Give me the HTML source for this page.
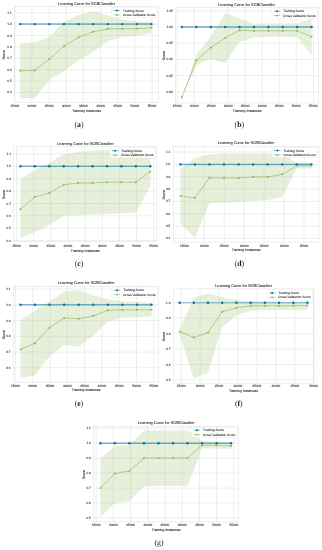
<!DOCTYPE html>
<html lang="en"><head><meta charset="utf-8">
<title>Learning curves for XGBClassifier</title>
<style>
html,body{margin:0;padding:0;background:#fff;}
body{width:322px;height:550px;overflow:hidden;}
svg{display:block;}
text{font-family:"Liberation Sans",sans-serif;fill:#555;text-rendering:geometricPrecision;}
.grid{fill:none;stroke:#d4d4d4;stroke-width:0.4;}
.frame{fill:none;stroke:#d4d4d4;stroke-width:0.4;}
.band{fill:#9fc377;fill-opacity:0.27;stroke:none;}
.thalo{fill:none;stroke:#0272a2;stroke-opacity:0.28;stroke-width:1.5;}
.tline{fill:none;stroke:#2685b1;stroke-width:0.6;}
.cline{fill:none;stroke:#8ebc5f;stroke-width:0.66;stroke-linejoin:round;}
.tm{fill:#0272a2;}
.cm{fill:#86b556;}
.tk{font-size:3.15px;fill:#303030;stroke:#303030;stroke-width:0.09px;}
.ttl{font-size:3.85px;fill:#2c2c2c;stroke:#2c2c2c;stroke-width:0.09px;}
.al{font-size:3.55px;fill:#2c2c2c;stroke:#2c2c2c;stroke-width:0.09px;}
.lt{font-size:3.2px;fill:#2c2c2c;stroke:#2c2c2c;stroke-width:0.08px;}
.lgd{fill:#fff;fill-opacity:0.8;stroke:#e2e2e2;stroke-width:0.35;}
.cap{font-family:"Liberation Serif",serif;font-size:7.8px;fill:#1a1a1a;}

</style></head><body>
<svg width="322" height="550" viewBox="0 0 322 550">
<rect width="322" height="550" fill="#fff"/>
<g class="chart" id="chart-a">
<rect x="14.6" y="6.5" width="144" height="95.8" fill="#fff"/>
<path class="grid" d="M14.6 12.71H158.6M14.6 24.1H158.6M14.6 35.49H158.6M14.6 46.88H158.6M14.6 58.27H158.6M14.6 69.66H158.6M14.6 81.05H158.6M14.6 92.44H158.6M14.8 6.5V102.3M31.95 6.5V102.3M49.1 6.5V102.3M66.25 6.5V102.3M83.4 6.5V102.3M100.55 6.5V102.3M117.7 6.5V102.3M134.85 6.5V102.3M152 6.5V102.3"/>
<polygon class="band" points="20.2,43.5 34.79,42.2 49.38,37 63.97,21.8 78.56,15.1 93.14,11.2 107.73,15.8 122.32,19.5 136.91,21.4 151.5,22.1 151.5,33.3 136.91,35.7 122.32,36.7 107.73,41.3 93.14,52 78.56,60.5 63.97,71.3 49.38,80 34.79,98.3 20.2,98.2"/>
<path class="thalo" d="M20.2 24.1H151.5"/>
<path class="tline" d="M20.2 24.1H151.5"/>
<polyline class="cline" points="20.2,70.7 34.79,70.4 49.38,59 63.97,46.2 78.56,37.3 93.14,31.8 107.73,28.8 122.32,28.8 136.91,28.6 151.5,27.8"/>
<circle class="tm" cx="20.2" cy="24.1" r="1.2"/>
<circle class="tm" cx="34.79" cy="24.1" r="1.2"/>
<circle class="tm" cx="49.38" cy="24.1" r="1.2"/>
<circle class="tm" cx="63.97" cy="24.1" r="1.2"/>
<circle class="tm" cx="78.56" cy="24.1" r="1.2"/>
<circle class="tm" cx="93.14" cy="24.1" r="1.2"/>
<circle class="tm" cx="107.73" cy="24.1" r="1.2"/>
<circle class="tm" cx="122.32" cy="24.1" r="1.2"/>
<circle class="tm" cx="136.91" cy="24.1" r="1.2"/>
<circle class="tm" cx="151.5" cy="24.1" r="1.2"/>
<circle class="cm" cx="20.2" cy="70.7" r="0.95"/>
<circle class="cm" cx="34.79" cy="70.4" r="0.95"/>
<circle class="cm" cx="49.38" cy="59" r="0.95"/>
<circle class="cm" cx="63.97" cy="46.2" r="0.95"/>
<circle class="cm" cx="78.56" cy="37.3" r="0.95"/>
<circle class="cm" cx="93.14" cy="31.8" r="0.95"/>
<circle class="cm" cx="107.73" cy="28.8" r="0.95"/>
<circle class="cm" cx="122.32" cy="28.8" r="0.95"/>
<circle class="cm" cx="136.91" cy="28.6" r="0.95"/>
<circle class="cm" cx="151.5" cy="27.8" r="0.95"/>
<rect class="frame" x="14.6" y="6.5" width="144" height="95.8"/>
<text class="tk" text-anchor="end" x="11.7" y="13.76">1.1</text>
<text class="tk" text-anchor="end" x="11.7" y="25.15">1.0</text>
<text class="tk" text-anchor="end" x="11.7" y="36.54">0.9</text>
<text class="tk" text-anchor="end" x="11.7" y="47.93">0.8</text>
<text class="tk" text-anchor="end" x="11.7" y="59.32">0.7</text>
<text class="tk" text-anchor="end" x="11.7" y="70.71">0.6</text>
<text class="tk" text-anchor="end" x="11.7" y="82.1">0.5</text>
<text class="tk" text-anchor="end" x="11.7" y="93.49">0.4</text>
<text class="tk" text-anchor="middle" x="14.8" y="107.2">15000</text>
<text class="tk" text-anchor="middle" x="31.95" y="107.2">20000</text>
<text class="tk" text-anchor="middle" x="49.1" y="107.2">25000</text>
<text class="tk" text-anchor="middle" x="66.25" y="107.2">30000</text>
<text class="tk" text-anchor="middle" x="83.4" y="107.2">35000</text>
<text class="tk" text-anchor="middle" x="100.55" y="107.2">40000</text>
<text class="tk" text-anchor="middle" x="117.7" y="107.2">45000</text>
<text class="tk" text-anchor="middle" x="134.85" y="107.2">50000</text>
<text class="tk" text-anchor="middle" x="152" y="107.2">55000</text>
<text class="ttl" text-anchor="middle" x="86.6" y="4.6">Learning Curve for XGBClassifier</text>
<text class="al" text-anchor="middle" x="86.6" y="111.75">Training Instances</text>
<text class="al" text-anchor="middle" transform="translate(5 54.9) rotate(-90)">Score</text>
<rect class="lgd" x="111.5" y="7.5" width="45.7" height="10.2" rx="0.6"/>
<path class="tline" d="M113.7 10.5h6.4"/>
<circle class="tm" cx="116.9" cy="10.5" r="1.0"/>
<path class="cline" d="M113.7 14.9h6.4"/>
<circle class="cm" cx="116.9" cy="14.9" r="0.9"/>
<text class="lt" x="123.1" y="11.6">Training Score</text>
<text class="lt" x="123.1" y="16">Cross Validation Score</text>
<text class="cap" text-anchor="middle" x="79" y="127">(<tspan class="capb" font-weight="bold">a</tspan>)</text>
</g>
<g class="chart" id="chart-b">
<rect x="175.6" y="7.2" width="143.2" height="95.8" fill="#fff"/>
<path class="grid" d="M175.6 10.8H318.8M175.6 27H318.8M175.6 43.2H318.8M175.6 59.4H318.8M175.6 75.6H318.8M175.6 91.8H318.8M177.2 7.2V103M194.2 7.2V103M211.2 7.2V103M228.2 7.2V103M245.2 7.2V103M262.2 7.2V103M279.2 7.2V103M296.2 7.2V103M313.2 7.2V103"/>
<polygon class="band" points="181.9,97.2 196.31,54.8 210.72,36.8 225.13,12.9 239.54,18.8 253.96,23.5 268.37,23.5 282.78,23.5 297.19,23.5 311.6,18.5 311.6,55.2 297.19,37 282.78,37 268.37,37 253.96,37.2 239.54,42 225.13,63.6 210.72,58.4 196.31,65.5 181.9,97.2"/>
<path class="thalo" d="M181.9 27H311.6"/>
<path class="tline" d="M181.9 27H311.6"/>
<polyline class="cline" points="181.9,97.2 196.31,60.5 210.72,47.7 225.13,38 239.54,30.3 253.96,30.8 268.37,30.8 282.78,30.8 297.19,30.8 311.6,36.8"/>
<circle class="tm" cx="181.9" cy="27" r="1.2"/>
<circle class="tm" cx="196.31" cy="27" r="1.2"/>
<circle class="tm" cx="210.72" cy="27" r="1.2"/>
<circle class="tm" cx="225.13" cy="27" r="1.2"/>
<circle class="tm" cx="239.54" cy="27" r="1.2"/>
<circle class="tm" cx="253.96" cy="27" r="1.2"/>
<circle class="tm" cx="268.37" cy="27" r="1.2"/>
<circle class="tm" cx="282.78" cy="27" r="1.2"/>
<circle class="tm" cx="297.19" cy="27" r="1.2"/>
<circle class="tm" cx="311.6" cy="27" r="1.2"/>
<circle class="cm" cx="181.9" cy="97.2" r="0.95"/>
<circle class="cm" cx="196.31" cy="60.5" r="0.95"/>
<circle class="cm" cx="210.72" cy="47.7" r="0.95"/>
<circle class="cm" cx="225.13" cy="38" r="0.95"/>
<circle class="cm" cx="239.54" cy="30.3" r="0.95"/>
<circle class="cm" cx="253.96" cy="30.8" r="0.95"/>
<circle class="cm" cx="268.37" cy="30.8" r="0.95"/>
<circle class="cm" cx="282.78" cy="30.8" r="0.95"/>
<circle class="cm" cx="297.19" cy="30.8" r="0.95"/>
<circle class="cm" cx="311.6" cy="36.8" r="0.95"/>
<rect class="frame" x="175.6" y="7.2" width="143.2" height="95.8"/>
<text class="tk" text-anchor="end" x="172.7" y="11.85">1.05</text>
<text class="tk" text-anchor="end" x="172.7" y="28.05">1.00</text>
<text class="tk" text-anchor="end" x="172.7" y="44.25">0.95</text>
<text class="tk" text-anchor="end" x="172.7" y="60.45">0.90</text>
<text class="tk" text-anchor="end" x="172.7" y="76.65">0.85</text>
<text class="tk" text-anchor="end" x="172.7" y="92.85">0.80</text>
<text class="tk" text-anchor="middle" x="177.2" y="107.4">15000</text>
<text class="tk" text-anchor="middle" x="194.2" y="107.4">20000</text>
<text class="tk" text-anchor="middle" x="211.2" y="107.4">25000</text>
<text class="tk" text-anchor="middle" x="228.2" y="107.4">30000</text>
<text class="tk" text-anchor="middle" x="245.2" y="107.4">35000</text>
<text class="tk" text-anchor="middle" x="262.2" y="107.4">40000</text>
<text class="tk" text-anchor="middle" x="279.2" y="107.4">45000</text>
<text class="tk" text-anchor="middle" x="296.2" y="107.4">50000</text>
<text class="tk" text-anchor="middle" x="313.2" y="107.4">55000</text>
<text class="ttl" text-anchor="middle" x="246.6" y="5.7">Learning Curve for XGBClassifier</text>
<text class="al" text-anchor="middle" x="247.2" y="111.95">Training Instances</text>
<text class="al" text-anchor="middle" transform="translate(164.7 55.6) rotate(-90)">Score</text>
<rect class="lgd" x="271.7" y="8.2" width="45.7" height="10.2" rx="0.6"/>
<path class="tline" d="M273.9 11.2h6.4"/>
<circle class="tm" cx="277.1" cy="11.2" r="1.0"/>
<path class="cline" d="M273.9 15.6h6.4"/>
<circle class="cm" cx="277.1" cy="15.6" r="0.9"/>
<text class="lt" x="283.3" y="12.3">Training Score</text>
<text class="lt" x="283.3" y="16.7">Cross Validation Score</text>
<text class="cap" text-anchor="middle" x="239.3" y="127">(<tspan class="capb" font-weight="bold">b</tspan>)</text>
</g>
<g class="chart" id="chart-c">
<rect x="13.8" y="146.7" width="143" height="94.8" fill="#fff"/>
<path class="grid" d="M13.8 153.9H156.8M13.8 166.3H156.8M13.8 178.7H156.8M13.8 191.1H156.8M13.8 203.5H156.8M13.8 215.9H156.8M13.8 228.3H156.8M13.8 240.7H156.8M16.5 146.7V241.5M33.65 146.7V241.5M50.8 146.7V241.5M67.95 146.7V241.5M85.1 146.7V241.5M102.25 146.7V241.5M119.4 146.7V241.5M136.55 146.7V241.5M153.7 146.7V241.5"/>
<polygon class="band" points="20.4,179 34.83,170.1 49.27,163 63.7,154.2 78.13,152 92.57,150.6 107,150.4 121.43,150.4 135.87,150.6 150.3,155.5 150.3,186.5 135.87,212.4 121.43,213.2 107,213.9 92.57,214.6 78.13,215.2 63.7,215.8 49.27,224.8 34.83,232.2 20.4,237.7"/>
<path class="thalo" d="M20.4 166.3H150.3"/>
<path class="tline" d="M20.4 166.3H150.3"/>
<polyline class="cline" points="20.4,209.2 34.83,197 49.27,193.2 63.7,184.7 78.13,183 92.57,183 107,182.2 121.43,182.2 135.87,182.2 150.3,171.5"/>
<circle class="tm" cx="20.4" cy="166.3" r="1.2"/>
<circle class="tm" cx="34.83" cy="166.3" r="1.2"/>
<circle class="tm" cx="49.27" cy="166.3" r="1.2"/>
<circle class="tm" cx="63.7" cy="166.3" r="1.2"/>
<circle class="tm" cx="78.13" cy="166.3" r="1.2"/>
<circle class="tm" cx="92.57" cy="166.3" r="1.2"/>
<circle class="tm" cx="107" cy="166.3" r="1.2"/>
<circle class="tm" cx="121.43" cy="166.3" r="1.2"/>
<circle class="tm" cx="135.87" cy="166.3" r="1.2"/>
<circle class="tm" cx="150.3" cy="166.3" r="1.2"/>
<circle class="cm" cx="20.4" cy="209.2" r="0.95"/>
<circle class="cm" cx="34.83" cy="197" r="0.95"/>
<circle class="cm" cx="49.27" cy="193.2" r="0.95"/>
<circle class="cm" cx="63.7" cy="184.7" r="0.95"/>
<circle class="cm" cx="78.13" cy="183" r="0.95"/>
<circle class="cm" cx="92.57" cy="183" r="0.95"/>
<circle class="cm" cx="107" cy="182.2" r="0.95"/>
<circle class="cm" cx="121.43" cy="182.2" r="0.95"/>
<circle class="cm" cx="135.87" cy="182.2" r="0.95"/>
<circle class="cm" cx="150.3" cy="171.5" r="0.95"/>
<rect class="frame" x="13.8" y="146.7" width="143" height="94.8"/>
<text class="tk" text-anchor="end" x="10.9" y="154.95">1.1</text>
<text class="tk" text-anchor="end" x="10.9" y="167.35">1.0</text>
<text class="tk" text-anchor="end" x="10.9" y="179.75">0.9</text>
<text class="tk" text-anchor="end" x="10.9" y="192.15">0.8</text>
<text class="tk" text-anchor="end" x="10.9" y="204.55">0.7</text>
<text class="tk" text-anchor="end" x="10.9" y="216.95">0.6</text>
<text class="tk" text-anchor="end" x="10.9" y="229.35">0.5</text>
<text class="tk" text-anchor="end" x="10.9" y="241.75">0.4</text>
<text class="tk" text-anchor="middle" x="16.5" y="247.1">15000</text>
<text class="tk" text-anchor="middle" x="33.65" y="247.1">20000</text>
<text class="tk" text-anchor="middle" x="50.8" y="247.1">25000</text>
<text class="tk" text-anchor="middle" x="67.95" y="247.1">30000</text>
<text class="tk" text-anchor="middle" x="85.1" y="247.1">35000</text>
<text class="tk" text-anchor="middle" x="102.25" y="247.1">40000</text>
<text class="tk" text-anchor="middle" x="119.4" y="247.1">45000</text>
<text class="tk" text-anchor="middle" x="136.55" y="247.1">50000</text>
<text class="tk" text-anchor="middle" x="153.7" y="247.1">55000</text>
<text class="ttl" text-anchor="middle" x="85.3" y="144.8">Learning Curve for XGBClassifier</text>
<text class="al" text-anchor="middle" x="85.3" y="251.65">Training Instances</text>
<text class="al" text-anchor="middle" transform="translate(5.2 194.6) rotate(-90)">Score</text>
<rect class="lgd" x="109.7" y="147.7" width="45.7" height="10.2" rx="0.6"/>
<path class="tline" d="M111.9 150.7h6.4"/>
<circle class="tm" cx="115.1" cy="150.7" r="1.0"/>
<path class="cline" d="M111.9 155.1h6.4"/>
<circle class="cm" cx="115.1" cy="155.1" r="0.9"/>
<text class="lt" x="121.3" y="151.8">Training Score</text>
<text class="lt" x="121.3" y="156.2">Cross Validation Score</text>
<text class="cap" text-anchor="middle" x="79" y="266">(<tspan class="capb" font-weight="bold">c</tspan>)</text>
</g>
<g class="chart" id="chart-d">
<rect x="173.2" y="146.4" width="145.8" height="95.7" fill="#fff"/>
<path class="grid" d="M173.2 152.07H319M173.2 164.4H319M173.2 176.73H319M173.2 189.06H319M173.2 201.39H319M173.2 213.72H319M173.2 226.05H319M173.2 238.38H319M184.3 146.4V242.1M204.25 146.4V242.1M224.2 146.4V242.1M244.15 146.4V242.1M264.1 146.4V242.1M284.05 146.4V242.1M304 146.4V242.1"/>
<polygon class="band" points="180.4,169.2 194.94,158 209.49,154.3 224.03,153.6 238.58,153.6 253.12,153.6 267.67,153.6 282.21,154 296.76,162.8 311.3,162.8 311.3,168.6 296.76,168.6 282.21,196.8 267.67,200 253.12,201 238.58,202 224.03,202.4 209.49,203.2 194.94,237.7 180.4,223.6"/>
<path class="thalo" d="M180.4 164.4H311.3"/>
<path class="tline" d="M180.4 164.4H311.3"/>
<polyline class="cline" points="180.4,195.9 194.94,198 209.49,177.8 224.03,178 238.58,178 253.12,177 267.67,177 282.21,174.3 296.76,165.8 311.3,165.8"/>
<circle class="tm" cx="180.4" cy="164.4" r="1.2"/>
<circle class="tm" cx="194.94" cy="164.4" r="1.2"/>
<circle class="tm" cx="209.49" cy="164.4" r="1.2"/>
<circle class="tm" cx="224.03" cy="164.4" r="1.2"/>
<circle class="tm" cx="238.58" cy="164.4" r="1.2"/>
<circle class="tm" cx="253.12" cy="164.4" r="1.2"/>
<circle class="tm" cx="267.67" cy="164.4" r="1.2"/>
<circle class="tm" cx="282.21" cy="164.4" r="1.2"/>
<circle class="tm" cx="296.76" cy="164.4" r="1.2"/>
<circle class="tm" cx="311.3" cy="164.4" r="1.2"/>
<circle class="cm" cx="180.4" cy="195.9" r="0.95"/>
<circle class="cm" cx="194.94" cy="198" r="0.95"/>
<circle class="cm" cx="209.49" cy="177.8" r="0.95"/>
<circle class="cm" cx="224.03" cy="178" r="0.95"/>
<circle class="cm" cx="238.58" cy="178" r="0.95"/>
<circle class="cm" cx="253.12" cy="177" r="0.95"/>
<circle class="cm" cx="267.67" cy="177" r="0.95"/>
<circle class="cm" cx="282.21" cy="174.3" r="0.95"/>
<circle class="cm" cx="296.76" cy="165.8" r="0.95"/>
<circle class="cm" cx="311.3" cy="165.8" r="0.95"/>
<rect class="frame" x="173.2" y="146.4" width="145.8" height="95.7"/>
<text class="tk" text-anchor="end" x="170.3" y="153.12">1.1</text>
<text class="tk" text-anchor="end" x="170.3" y="165.45">1.0</text>
<text class="tk" text-anchor="end" x="170.3" y="177.78">0.9</text>
<text class="tk" text-anchor="end" x="170.3" y="190.11">0.8</text>
<text class="tk" text-anchor="end" x="170.3" y="202.44">0.7</text>
<text class="tk" text-anchor="end" x="170.3" y="214.77">0.6</text>
<text class="tk" text-anchor="end" x="170.3" y="227.1">0.5</text>
<text class="tk" text-anchor="end" x="170.3" y="239.43">0.4</text>
<text class="tk" text-anchor="middle" x="184.3" y="246.9">15000</text>
<text class="tk" text-anchor="middle" x="204.25" y="246.9">20000</text>
<text class="tk" text-anchor="middle" x="224.2" y="246.9">25000</text>
<text class="tk" text-anchor="middle" x="244.15" y="246.9">30000</text>
<text class="tk" text-anchor="middle" x="264.1" y="246.9">35000</text>
<text class="tk" text-anchor="middle" x="284.05" y="246.9">40000</text>
<text class="tk" text-anchor="middle" x="304" y="246.9">45000</text>
<text class="ttl" text-anchor="middle" x="246.1" y="143.9">Learning Curve for XGBClassifier</text>
<text class="al" text-anchor="middle" x="246.1" y="251.45">Training Instances</text>
<text class="al" text-anchor="middle" transform="translate(164.6 194.75) rotate(-90)">Score</text>
<rect class="lgd" x="271.9" y="147.4" width="45.7" height="10.2" rx="0.6"/>
<path class="tline" d="M274.1 150.4h6.4"/>
<circle class="tm" cx="277.3" cy="150.4" r="1.0"/>
<path class="cline" d="M274.1 154.8h6.4"/>
<circle class="cm" cx="277.3" cy="154.8" r="0.9"/>
<text class="lt" x="283.5" y="151.5">Training Score</text>
<text class="lt" x="283.5" y="155.9">Cross Validation Score</text>
<text class="cap" text-anchor="middle" x="239.3" y="266">(<tspan class="capb" font-weight="bold">d</tspan>)</text>
</g>
<g class="chart" id="chart-e">
<rect x="13.5" y="286.2" width="145.3" height="95.9" fill="#fff"/>
<path class="grid" d="M13.5 289.05H158.8M13.5 304.8H158.8M13.5 320.55H158.8M13.5 336.3H158.8M13.5 352.05H158.8M13.5 367.8H158.8M15.4 286.2V382.1M32.7 286.2V382.1M50 286.2V382.1M67.3 286.2V382.1M84.6 286.2V382.1M101.9 286.2V382.1M119.2 286.2V382.1M136.5 286.2V382.1M153.8 286.2V382.1"/>
<polygon class="band" points="20.4,320.4 34.97,310.6 49.53,301.2 64.1,291.8 78.67,290.2 93.23,295.6 107.8,299.3 122.37,301.6 136.93,301.9 151.5,302.8 151.5,315.9 136.93,317.4 122.37,317.8 107.8,321.4 93.23,335.5 78.67,346.8 64.1,345.3 49.53,356 34.97,375.5 20.4,378"/>
<path class="thalo" d="M20.4 304.8H151.5"/>
<path class="tline" d="M20.4 304.8H151.5"/>
<polyline class="cline" points="20.4,349.4 34.97,343.2 49.53,327.7 64.1,318 78.67,318.7 93.23,316 107.8,310.3 122.37,309.8 136.93,309.8 151.5,309.8"/>
<circle class="tm" cx="20.4" cy="304.8" r="1.2"/>
<circle class="tm" cx="34.97" cy="304.8" r="1.2"/>
<circle class="tm" cx="49.53" cy="304.8" r="1.2"/>
<circle class="tm" cx="64.1" cy="304.8" r="1.2"/>
<circle class="tm" cx="78.67" cy="304.8" r="1.2"/>
<circle class="tm" cx="93.23" cy="304.8" r="1.2"/>
<circle class="tm" cx="107.8" cy="304.8" r="1.2"/>
<circle class="tm" cx="122.37" cy="304.8" r="1.2"/>
<circle class="tm" cx="136.93" cy="304.8" r="1.2"/>
<circle class="tm" cx="151.5" cy="304.8" r="1.2"/>
<circle class="cm" cx="20.4" cy="349.4" r="0.95"/>
<circle class="cm" cx="34.97" cy="343.2" r="0.95"/>
<circle class="cm" cx="49.53" cy="327.7" r="0.95"/>
<circle class="cm" cx="64.1" cy="318" r="0.95"/>
<circle class="cm" cx="78.67" cy="318.7" r="0.95"/>
<circle class="cm" cx="93.23" cy="316" r="0.95"/>
<circle class="cm" cx="107.8" cy="310.3" r="0.95"/>
<circle class="cm" cx="122.37" cy="309.8" r="0.95"/>
<circle class="cm" cx="136.93" cy="309.8" r="0.95"/>
<circle class="cm" cx="151.5" cy="309.8" r="0.95"/>
<rect class="frame" x="13.5" y="286.2" width="145.3" height="95.9"/>
<text class="tk" text-anchor="end" x="10.6" y="290.1">1.1</text>
<text class="tk" text-anchor="end" x="10.6" y="305.85">1.0</text>
<text class="tk" text-anchor="end" x="10.6" y="321.6">0.9</text>
<text class="tk" text-anchor="end" x="10.6" y="337.35">0.8</text>
<text class="tk" text-anchor="end" x="10.6" y="353.1">0.7</text>
<text class="tk" text-anchor="end" x="10.6" y="368.85">0.6</text>
<text class="tk" text-anchor="middle" x="15.4" y="386.6">15000</text>
<text class="tk" text-anchor="middle" x="32.7" y="386.6">20000</text>
<text class="tk" text-anchor="middle" x="50" y="386.6">25000</text>
<text class="tk" text-anchor="middle" x="67.3" y="386.6">30000</text>
<text class="tk" text-anchor="middle" x="84.6" y="386.6">35000</text>
<text class="tk" text-anchor="middle" x="101.9" y="386.6">40000</text>
<text class="tk" text-anchor="middle" x="119.2" y="386.6">45000</text>
<text class="tk" text-anchor="middle" x="136.5" y="386.6">50000</text>
<text class="tk" text-anchor="middle" x="153.8" y="386.6">55000</text>
<text class="ttl" text-anchor="middle" x="86.15" y="284.3">Learning Curve for XGBClassifier</text>
<text class="al" text-anchor="middle" x="86.15" y="391.15">Training Instances</text>
<text class="al" text-anchor="middle" transform="translate(4.9 334.65) rotate(-90)">Score</text>
<rect class="lgd" x="111.7" y="287.2" width="45.7" height="10.2" rx="0.6"/>
<path class="tline" d="M113.9 290.2h6.4"/>
<circle class="tm" cx="117.1" cy="290.2" r="1.0"/>
<path class="cline" d="M113.9 294.6h6.4"/>
<circle class="cm" cx="117.1" cy="294.6" r="0.9"/>
<text class="lt" x="123.3" y="291.3">Training Score</text>
<text class="lt" x="123.3" y="295.7">Cross Validation Score</text>
<text class="cap" text-anchor="middle" x="79" y="405.6">(<tspan class="capb" font-weight="bold">e</tspan>)</text>
</g>
<g class="chart" id="chart-f">
<rect x="173.3" y="288.9" width="140.5" height="94.2" fill="#fff"/>
<path class="grid" d="M173.3 302.8H313.8M173.3 318.22H313.8M173.3 333.64H313.8M173.3 349.06H313.8M173.3 364.48H313.8M173.3 379.9H313.8M181.1 288.9V383.1M200.05 288.9V383.1M219 288.9V383.1M237.95 288.9V383.1M256.9 288.9V383.1M275.85 288.9V383.1M294.8 288.9V383.1M313.75 288.9V383.1"/>
<polygon class="band" points="179.6,329.4 193.81,297.6 208.02,293.6 222.23,297.2 236.44,299.8 250.66,301.2 264.87,301.6 279.08,301.7 293.29,301.7 307.5,301.8 307.5,309.4 293.29,309.9 279.08,310 264.87,310.1 250.66,310.6 236.44,315.8 222.23,326.7 208.02,372.4 193.81,378.4 179.6,334"/>
<path class="tline" d="M179.6 302.8H307.5"/>
<polyline class="cline" points="179.6,331.6 193.81,337.5 208.02,332.6 222.23,311.8 236.44,307.8 250.66,305.8 264.87,305.8 279.08,305.8 293.29,305.8 307.5,305.5"/>
<circle class="tm" cx="179.6" cy="302.8" r="1.2"/>
<circle class="tm" cx="193.81" cy="302.8" r="1.2"/>
<circle class="tm" cx="208.02" cy="302.8" r="1.2"/>
<circle class="tm" cx="222.23" cy="302.8" r="1.2"/>
<circle class="tm" cx="236.44" cy="302.8" r="1.2"/>
<circle class="tm" cx="250.66" cy="302.8" r="1.2"/>
<circle class="tm" cx="264.87" cy="302.8" r="1.2"/>
<circle class="tm" cx="279.08" cy="302.8" r="1.2"/>
<circle class="tm" cx="293.29" cy="302.8" r="1.2"/>
<circle class="tm" cx="307.5" cy="302.8" r="1.2"/>
<circle class="cm" cx="179.6" cy="331.6" r="0.95"/>
<circle class="cm" cx="193.81" cy="337.5" r="0.95"/>
<circle class="cm" cx="208.02" cy="332.6" r="0.95"/>
<circle class="cm" cx="222.23" cy="311.8" r="0.95"/>
<circle class="cm" cx="236.44" cy="307.8" r="0.95"/>
<circle class="cm" cx="250.66" cy="305.8" r="0.95"/>
<circle class="cm" cx="264.87" cy="305.8" r="0.95"/>
<circle class="cm" cx="279.08" cy="305.8" r="0.95"/>
<circle class="cm" cx="293.29" cy="305.8" r="0.95"/>
<circle class="cm" cx="307.5" cy="305.5" r="0.95"/>
<rect class="frame" x="173.3" y="288.9" width="140.5" height="94.2"/>
<text class="tk" text-anchor="end" x="170.4" y="303.85">1.0</text>
<text class="tk" text-anchor="end" x="170.4" y="319.27">0.9</text>
<text class="tk" text-anchor="end" x="170.4" y="334.69">0.8</text>
<text class="tk" text-anchor="end" x="170.4" y="350.11">0.7</text>
<text class="tk" text-anchor="end" x="170.4" y="365.53">0.6</text>
<text class="tk" text-anchor="end" x="170.4" y="380.95">0.5</text>
<text class="tk" text-anchor="middle" x="181.1" y="387">15000</text>
<text class="tk" text-anchor="middle" x="200.05" y="387">20000</text>
<text class="tk" text-anchor="middle" x="219" y="387">25000</text>
<text class="tk" text-anchor="middle" x="237.95" y="387">30000</text>
<text class="tk" text-anchor="middle" x="256.9" y="387">35000</text>
<text class="tk" text-anchor="middle" x="275.85" y="387">40000</text>
<text class="tk" text-anchor="middle" x="294.8" y="387">45000</text>
<text class="tk" text-anchor="middle" x="313.75" y="387">50000</text>
<text class="ttl" text-anchor="middle" x="243.55" y="287">Learning Curve for XGBClassifier</text>
<text class="al" text-anchor="middle" x="243.55" y="391.55">Training Instances</text>
<text class="al" text-anchor="middle" transform="translate(164.7 336.5) rotate(-90)">Score</text>
<rect class="lgd" x="266.7" y="289.9" width="45.7" height="10.2" rx="0.6"/>
<path class="tline" d="M268.9 292.9h6.4"/>
<circle class="tm" cx="272.1" cy="292.9" r="1.0"/>
<path class="cline" d="M268.9 297.3h6.4"/>
<circle class="cm" cx="272.1" cy="297.3" r="0.9"/>
<text class="lt" x="278.3" y="294">Training Score</text>
<text class="lt" x="278.3" y="298.4">Cross Validation Score</text>
<text class="cap" text-anchor="middle" x="238.8" y="405.8">(<tspan class="capb" font-weight="bold">f</tspan>)</text>
</g>
<g class="chart" id="chart-g">
<rect x="93.7" y="426.2" width="144.9" height="95.7" fill="#fff"/>
<path class="grid" d="M93.7 428.25H238.6M93.7 443.2H238.6M93.7 458.15H238.6M93.7 473.1H238.6M93.7 488.05H238.6M93.7 503H238.6M93.7 517.95H238.6M96.1 426.2V521.9M113.32 426.2V521.9M130.54 426.2V521.9M147.76 426.2V521.9M164.98 426.2V521.9M182.2 426.2V521.9M199.42 426.2V521.9M216.64 426.2V521.9M233.86 426.2V521.9"/>
<polygon class="band" points="100.4,458.5 114.92,446 129.44,444.8 143.97,430.5 158.49,430.4 173.01,430.4 187.53,430.4 202.06,441 216.58,441.5 231.1,442.5 231.1,448.7 216.58,448.5 202.06,448.6 187.53,485.7 173.01,485.7 158.49,485.7 143.97,486.2 129.44,501 114.92,503.3 100.4,517.2"/>
<path class="thalo" d="M100.4 443.2H231.1"/>
<path class="tline" d="M100.4 443.2H231.1"/>
<polyline class="cline" points="100.4,488.1 114.92,473.5 129.44,470.9 143.97,458 158.49,458 173.01,458 187.53,458 202.06,445.3 216.58,445.3 231.1,446"/>
<circle class="tm" cx="100.4" cy="443.2" r="1.2"/>
<circle class="tm" cx="114.92" cy="443.2" r="1.2"/>
<circle class="tm" cx="129.44" cy="443.2" r="1.2"/>
<circle class="tm" cx="143.97" cy="443.2" r="1.2"/>
<circle class="tm" cx="158.49" cy="443.2" r="1.2"/>
<circle class="tm" cx="173.01" cy="443.2" r="1.2"/>
<circle class="tm" cx="187.53" cy="443.2" r="1.2"/>
<circle class="tm" cx="202.06" cy="443.2" r="1.2"/>
<circle class="tm" cx="216.58" cy="443.2" r="1.2"/>
<circle class="tm" cx="231.1" cy="443.2" r="1.2"/>
<circle class="cm" cx="100.4" cy="488.1" r="0.95"/>
<circle class="cm" cx="114.92" cy="473.5" r="0.95"/>
<circle class="cm" cx="129.44" cy="470.9" r="0.95"/>
<circle class="cm" cx="143.97" cy="458" r="0.95"/>
<circle class="cm" cx="158.49" cy="458" r="0.95"/>
<circle class="cm" cx="173.01" cy="458" r="0.95"/>
<circle class="cm" cx="187.53" cy="458" r="0.95"/>
<circle class="cm" cx="202.06" cy="445.3" r="0.95"/>
<circle class="cm" cx="216.58" cy="445.3" r="0.95"/>
<circle class="cm" cx="231.1" cy="446" r="0.95"/>
<rect class="frame" x="93.7" y="426.2" width="144.9" height="95.7"/>
<text class="tk" text-anchor="end" x="90.8" y="429.3">1.1</text>
<text class="tk" text-anchor="end" x="90.8" y="444.25">1.0</text>
<text class="tk" text-anchor="end" x="90.8" y="459.2">0.9</text>
<text class="tk" text-anchor="end" x="90.8" y="474.15">0.8</text>
<text class="tk" text-anchor="end" x="90.8" y="489.1">0.7</text>
<text class="tk" text-anchor="end" x="90.8" y="504.05">0.6</text>
<text class="tk" text-anchor="end" x="90.8" y="519">0.5</text>
<text class="tk" text-anchor="middle" x="96.1" y="526.4">15000</text>
<text class="tk" text-anchor="middle" x="113.32" y="526.4">20000</text>
<text class="tk" text-anchor="middle" x="130.54" y="526.4">25000</text>
<text class="tk" text-anchor="middle" x="147.76" y="526.4">30000</text>
<text class="tk" text-anchor="middle" x="164.98" y="526.4">35000</text>
<text class="tk" text-anchor="middle" x="182.2" y="526.4">40000</text>
<text class="tk" text-anchor="middle" x="199.42" y="526.4">45000</text>
<text class="tk" text-anchor="middle" x="216.64" y="526.4">50000</text>
<text class="tk" text-anchor="middle" x="233.86" y="526.4">55000</text>
<text class="ttl" text-anchor="middle" x="166.15" y="424.3">Learning Curve for XGBClassifier</text>
<text class="al" text-anchor="middle" x="166.15" y="530.95">Training Instances</text>
<text class="al" text-anchor="middle" transform="translate(85.1 474.55) rotate(-90)">Score</text>
<rect class="lgd" x="191.5" y="427.2" width="45.7" height="10.2" rx="0.6"/>
<path class="tline" d="M193.7 430.2h6.4"/>
<circle class="tm" cx="196.9" cy="430.2" r="1.0"/>
<path class="cline" d="M193.7 434.6h6.4"/>
<circle class="cm" cx="196.9" cy="434.6" r="0.9"/>
<text class="lt" x="203.1" y="431.3">Training Score</text>
<text class="lt" x="203.1" y="435.7">Cross Validation Score</text>
<text class="cap" text-anchor="middle" x="159" y="545.2">(<tspan class="capb" font-weight="normal">g</tspan>)</text>
</g>
</svg></body></html>
